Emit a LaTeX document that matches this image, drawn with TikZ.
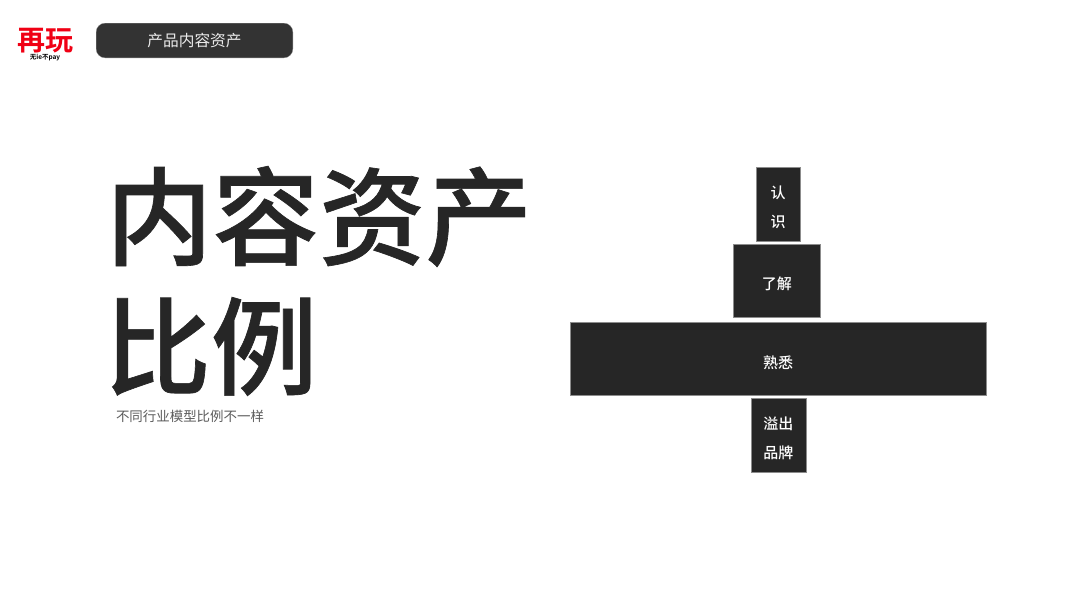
\documentclass[tikz,border=0pt]{standalone}
\usepackage{fontspec}
\setmainfont{Noto Sans CJK SC}
\newfontfamily\cjkbold{Noto Sans CJK SC Bold}
\newfontfamily\cjkmedium{Noto Sans CJK SC Medium}
\newfontfamily\cjktitle[FakeBold=0.6]{Noto Sans CJK SC Medium}
\definecolor{ink}{HTML}{262626}
\definecolor{tagfill}{HTML}{333333}
\definecolor{edge}{HTML}{8C8C8C}
\definecolor{brandred}{HTML}{F00014}
\newcommand{\lowered}[2]{\raisebox{-#1pt}[\height][\depth]{#2}}
\tikzset{
  x=1pt,y=-1pt,
  blockbox/.style={fill=ink,draw=edge,line width=0.3pt,text=white,inner sep=0pt,font=\cjkmedium\fontsize{15}{29}\selectfont},
  bigtitle/.style={text=ink,inner sep=0pt,font=\cjktitle\fontsize{106.5}{120}\selectfont,anchor=center}
}
\begin{document}
\begin{tikzpicture}
\useasboundingbox (0,0) rectangle (1080,608);
\fill[white] (0,0) rectangle (1080,608);
\node[text=brandred,inner sep=0pt,font=\cjkbold\fontsize{28}{28}\selectfont] (logo) at (45,41) {再玩};
\node[text=black,inner sep=0pt,font=\cjkbold\fontsize{6.5}{6.5}\selectfont] (slogan) at (45,58) {无ie不pay};
\node[fill=tagfill,draw=edge,line width=0.3pt,rounded corners=9pt,minimum width=196.7pt,minimum height=34.7pt,text=white!92!black,inner sep=0pt,font=\fontsize{15.7}{16}\selectfont] (tag) at (194.5,40.5) {产品内容资产};
\node[bigtitle] (t1) at (319,216.5) {内容资产};
\node[bigtitle] (t2) at (211,346.5) {比例};
\node[text=ink!75,inner sep=0pt,font=\fontsize{13.45}{15}\selectfont] (sub) at (190,416) {不同行业模型比例不一样};
\node[blockbox,minimum width=44.5pt,minimum height=73.7pt,align=center] (a) at (778.2,204) {\lowered{3}{认}\\\lowered{3}{识}};
\node[blockbox,minimum width=86.5pt,minimum height=73.2pt] (b) at (776.8,280.7) {\lowered{2.8}{了解}};
\node[blockbox,minimum width=415.5pt,minimum height=73.2pt] (c) at (778.2,358.5) {\lowered{4}{熟悉}};
\node[blockbox,minimum width=55.2pt,minimum height=73.7pt,align=center] (d) at (778.4,435) {\lowered{3}{溢出}\\\lowered{3}{品牌}};
\end{tikzpicture}
\end{document}
